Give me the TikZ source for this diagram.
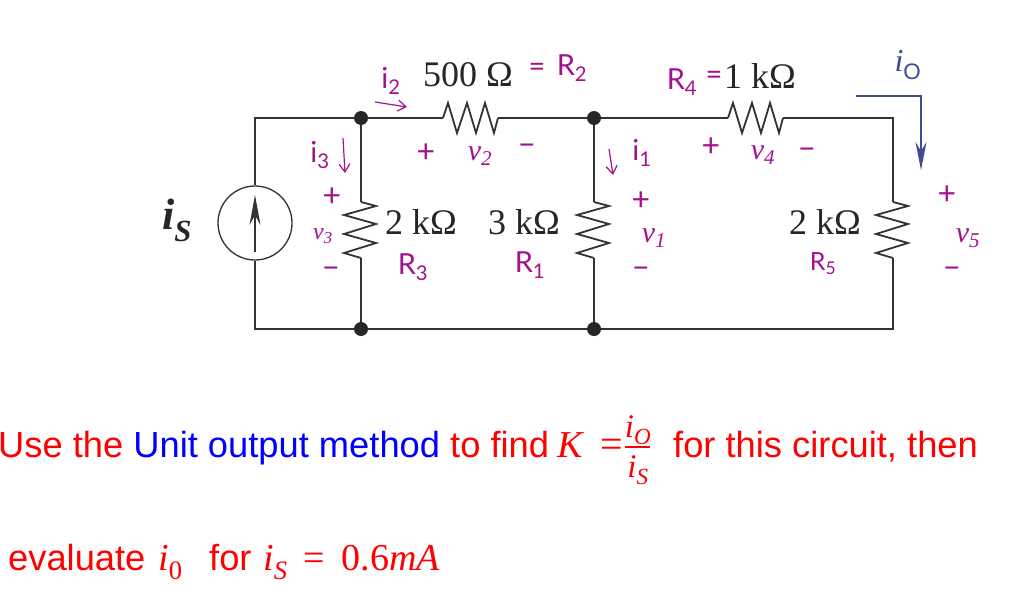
\documentclass[tikz,border=0pt]{standalone}
\usepackage{fontspec}
\usepackage{xcolor}
\usetikzlibrary{arrows.meta,positioning}
\setmainfont{Liberation Serif}
\newfontfamily\armfont{Liberation Sans}
\newfontfamily\handfont{Lato}
\definecolor{wirecol}{HTML}{333333}
\definecolor{handcol}{HTML}{A3128C}
\definecolor{probecol}{HTML}{3D4C8F}

\tikzset{
  wire/.style={draw=wirecol,line width=1.8pt},
  thinwire/.style={draw=wirecol,line width=1.3pt},
  junct/.style={circle,fill=black!85,inner sep=0pt,minimum size=14pt},
  srccirc/.style={circle,draw=wirecol,line width=1.3pt,inner sep=0pt,minimum size=74pt},
  val/.style={text=black!85,font=\fontsize{36}{36}\selectfont,inner sep=0pt},
  hand/.style={text=handcol,font=\handfont\fontsize{29}{29}\selectfont,inner sep=0pt},
  handsign/.style={text=handcol,font=\handfont\fontsize{32}{32}\selectfont,inner sep=0pt},
  handv/.style={text=handcol,font=\itshape\fontsize{30}{24}\selectfont,inner sep=0pt},
  handline/.style={draw=handcol,line width=1.2pt,-{Straight Barb[length=8pt,width=11pt]}},
  redtxt/.style={text=red,font=\armfont\fontsize{36.3}{36.3}\selectfont,inner sep=0pt,anchor=base west},
  redmath/.style={text=red,font=\itshape\fontsize{38}{38}\selectfont,inner sep=0pt},
  hres/.pic={
    \coordinate (-in) at (0,0);
    \coordinate (-out) at (55,0);
    \draw[wire] (0,0) -- (5,-15) -- (14,15) -- (24,-15) -- (33,15) -- (42,-15) -- (51,15) -- (55,0);
  },
  vres/.pic={
    \coordinate (-in) at (0,0);
    \coordinate (-out) at (0,56);
    \draw[wire] (0,0) -- (15,4) -- (-17,13) -- (15,22) -- (-17,32) -- (15,41) -- (-17,51) -- (0,56);
  }
}

\begin{document}
\begin{tikzpicture}[x=1pt,y=-1pt]
    \useasboundingbox[fill=white] (0,0) rectangle (1024,613);

    % junctions and corners
    \node[junct] (ja) at (361,118) {};
    \node[junct] (jb) at (594,118) {};
    \node[junct] (jc) at (361,329) {};
    \node[junct] (jd) at (594,329) {};
    \coordinate (tl) at (255,118);
    \coordinate (bl) at (255,329);
    \coordinate (tr) at (893,118);
    \coordinate (br) at (893,329);

    \node[srccirc] (src) at (255,223) {};
    \coordinate (srcbot) at (255,252);
    \coordinate (srctop) at (255,195);

    \pic (rtwo) at (443,118) {hres};
    \pic (rfour) at (728,118) {hres};
    \pic (rthree) at (361,202) {vres};
    \pic (rone) at (594,202) {vres};
    \pic (rfive) at (893,202) {vres};

    \draw[wire] (src.north) -- (tl) -- (ja) -- (rtwo-in);
    \draw[wire] (rtwo-out) -- (jb) -- (rfour-in);
    \draw[wire] (rfour-out) -- (tr) -- (rfive-in);
    \draw[wire] (rfive-out) -- (br) -- (jd) -- (jc) -- (bl) -- (src.south);
    \draw[wire] (ja) -- (rthree-in);
    \draw[wire] (rthree-out) -- (jc);
    \draw[wire] (jb) -- (rone-in);
    \draw[wire] (rone-out) -- (jd);
    \draw[thinwire,-{Stealth[length=30pt,width=11pt]}] (srcbot) -- (srctop);

    \node[font=\bfseries\itshape\fontsize{44}{44}\selectfont,text=black!85,inner sep=0pt] (islabel) at (177,220) {i\textsubscript{S}};
    \node[val] (vtwo) at (468,75) {500 Ω};
    \node[val] (vfour) at (760,76) {1 kΩ};
    \node[val] (vthree) at (421,222) {2 kΩ};
    \node[val] (vone) at (524,222) {3 kΩ};
    \node[val] (vfive) at (825,222) {2 kΩ};

    % output current probe
    \coordinate (pa) at (856,96);
    \coordinate (pb) at (921,96);
    \coordinate (pc) at (921,170);
    \draw[draw=probecol,line width=1.5pt,-{Stealth[length=28pt,width=11pt]}] (pa) -- (pb) -- (pc);
    \node[text=probecol,font=\fontsize{32}{32}\selectfont,inner sep=0pt] (iolabel) at (908,65) {\textit{i}\textsubscript{\armfont O}};

    % pen notes
    \node[hand] (itwo) at (391,81) {i\textsubscript{2}};
    \coordinate (itwoa) at (375,102);
    \coordinate (itwob) at (407,107);
    \draw[handline] (itwoa) -- (itwob);
    \node[hand] (eqtwo) at (537,70) {=};
    \node[hand] (rtwolabel) at (572,68) {R\textsubscript{2}};
    \node[hand] (ithree) at (320,155) {i\textsubscript{3}};
    \coordinate (ithreea) at (343,138);
    \coordinate (ithreeb) at (345,173);
    \draw[handline] (ithreea) -- (ithreeb);
    \node[handsign] (pthree) at (332,197) {+};
    \node[handv,font=\itshape\fontsize{24}{24}\selectfont] (uthree) at (323,236) {v\textsubscript{3}};
    \node[handsign] (mthree) at (331,272) {–};
    \node[hand] (rthreelabel) at (413,267) {R\textsubscript{3}};
    \node[hand] (ronelabel) at (530,265) {R\textsubscript{1}};
    \node[handsign] (ptwo) at (426,153) {+};
    \node[handv] (utwo) at (480,156) {v\textsubscript{2}};
    \node[handsign] (mtwo) at (527,149) {–};
    \coordinate (ionea) at (609,149);
    \coordinate (ioneb) at (613,175);
    \draw[handline] (ionea) -- (ioneb);
    \node[hand] (ione) at (642,153) {i\textsubscript{1}};
    \node[handsign] (pone) at (641,201) {+};
    \node[handv] (uone) at (654,238) {v\textsubscript{1}};
    \node[handsign] (mone) at (641,272) {–};
    \node[hand] (rfourlabel) at (682,82) {R\textsubscript{4}};
    \node[hand] (eqfour) at (714,78) {=};
    \node[handsign] (pfour) at (711,147) {+};
    \node[handv] (ufour) at (763,155) {v\textsubscript{4}};
    \node[handsign] (mfour) at (807,153) {–};
    \node[hand,font=\handfont\fontsize{25}{25}\selectfont] (rfivelabel) at (823,264) {R\textsubscript{5}};
    \node[handsign] (pfive) at (947,195) {+};
    \node[handv] (ufive) at (968,238) {v\textsubscript{5}};
    \node[handsign] (mfive) at (952,272) {–};

    % question text
    \node[redtxt] (qa) at (-2,457) {Use the \textcolor{blue}{Unit output method} to find};
    \node[redmath,anchor=base west] (qk) at (557,457) {K};
    \node[redtxt,font=\fontsize{40}{40}\selectfont] (qeq) at (600,457) {=};
    \node[redmath,font=\itshape\fontsize{33}{33}\selectfont] (qnum) at (638,430) {i\textsubscript{O}};
    \node[redmath,font=\itshape\fontsize{33}{33}\selectfont] (qden) at (638,470) {i\textsubscript{S}};
    \coordinate (qbara) at (625,447);
    \coordinate (qbarb) at (650,447);
    \draw[draw=red,line width=1.6pt] (qbara) -- (qbarb);
    \node[redtxt] (qb) at (673,457) {for this circuit, then};
    \node[redtxt] (qc) at (8,570) {evaluate};
    \node[redmath,anchor=base west] (qio) at (158,570) {i\textsubscript{\upshape 0}};
    \node[redtxt] (qd) at (209,570) {for};
    \node[redmath,anchor=base west] (qis) at (263,570) {i\textsubscript{S}};
    \node[redtxt,font=\fontsize{38}{38}\selectfont] (qe) at (303,570) {=\hspace{17pt}0.6\textit{mA}};
\end{tikzpicture}
\end{document}
